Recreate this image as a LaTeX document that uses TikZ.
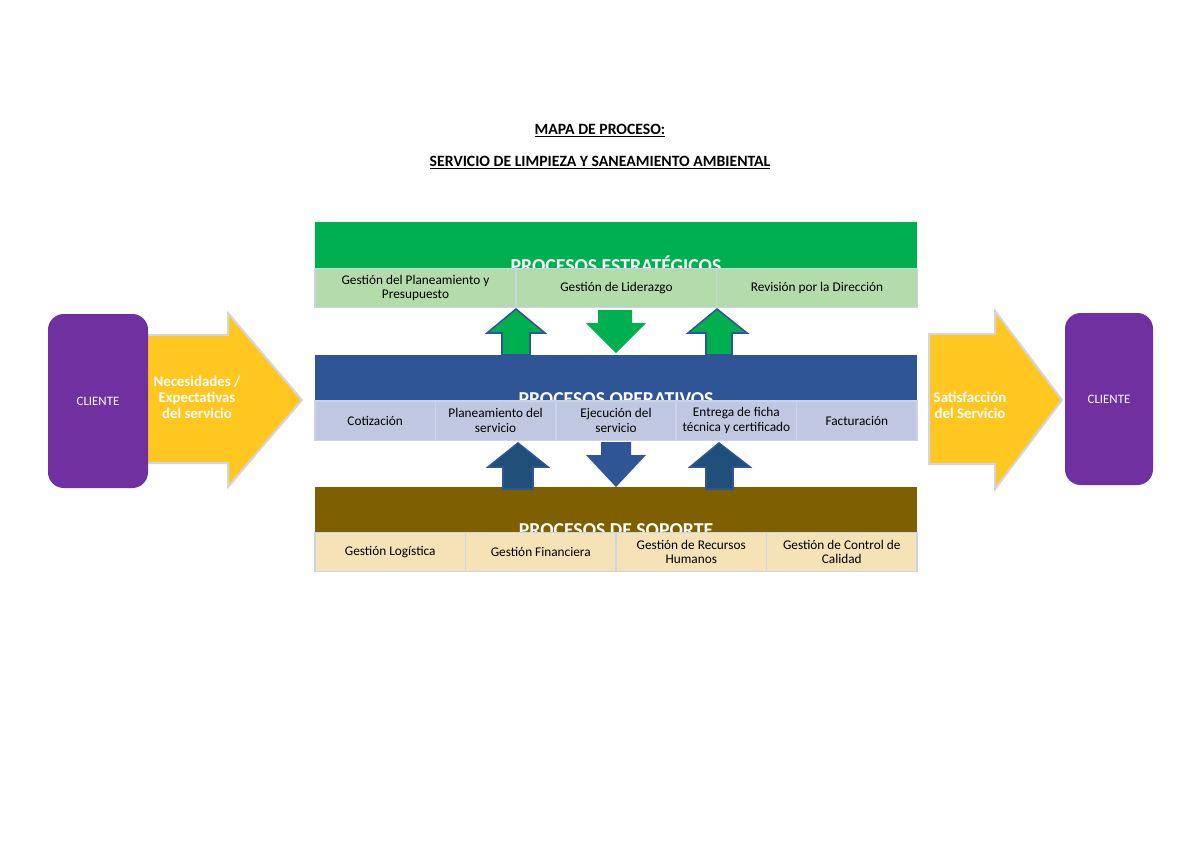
\documentclass[tikz,border=0pt]{standalone}
\usepackage{fontspec}
\setmainfont{Carlito}
\definecolor{stratgreen}{HTML}{00B050}
\definecolor{stratcell}{HTML}{B4DCAA}
\definecolor{opblue}{HTML}{2F5597}
\definecolor{opcell}{HTML}{BFC8E0}
\definecolor{darkblue}{HTML}{1F4E79}
\definecolor{brownband}{HTML}{7F6000}
\definecolor{supcell}{HTML}{F5E3B7}
\definecolor{clientpurple}{HTML}{7030A0}
\definecolor{arrowyellow}{HTML}{FFC71F}
\definecolor{cellline}{HTML}{CDD3E6}
\definecolor{yline}{HTML}{D2D6E0}
\begin{document}
\begin{tikzpicture}[x=0.7pt,y=-0.7pt,
  celltext/.style={font=\fontsize{9.3}{10.2}\selectfont, align=center, inner sep=0pt},
  cellbox/.style={draw=cellline, line width=1pt, celltext, minimum height=27.6pt},
  strcell/.style={cellbox, fill=stratcell, minimum width=140.7pt},
  opcellbox/.style={cellbox, fill=opcell, minimum width=84.28pt},
  supcellbox/.style={cellbox, fill=supcell, minimum width=105.35pt},
  bandtitle/.style={text=white, font=\fontsize{13.8}{16}\selectfont\bfseries, anchor=base, inner sep=0pt},
  client/.style={fill=clientpurple, rounded corners=11pt},
  clienttext/.style={text=white, font=\fontsize{9}{10}\selectfont, inner sep=0pt},
  yarrow/.style={fill=arrowyellow, draw=yline, line width=1.4pt, line join=miter},
  yarrowtext/.style={text=white, font=\fontsize{10.4}{11.3}\selectfont\bfseries, align=center, inner sep=0pt},
  greenup/.style={fill=stratgreen, draw=opblue, line width=1.1pt},
  greendown/.style={fill=stratgreen},
  blueup/.style={fill=darkblue, draw=opblue, line width=1.1pt},
  bluedown/.style={fill=opblue},
  titletext/.style={font=\fontsize{11}{13}\selectfont\bfseries, inner sep=0pt}
]
\useasboundingbox (0,0) rectangle (1200,849);
\fill[white] (0,0) rectangle (1200,849);

% Title
\node[titletext] (title1) at (600,131) {\underline{MAPA DE PROCESO:}};
\node[titletext] (title2) at (600,163) {\underline{SERVICIO DE LIMPIEZA Y SANEAMIENTO AMBIENTAL}};

% Strategic band
\fill[stratgreen] (315,222) rectangle (917,270);
\node[bandtitle] (tstrat) at (616,272) {PROCESOS ESTRATÉGICOS};
\node[strcell] (s1) at (415.5,288) {Gestión del Planeamiento y\\Presupuesto};
\node[strcell] (s2) at (616.5,288) {Gestión de Liderazgo};
\node[strcell] (s3) at (817,288) {Revisión por la Dirección};

% Operative band
\fill[opblue] (315,355) rectangle (917,403);
\node[bandtitle] (top) at (616,405) {PROCESOS OPERATIVOS};
\node[opcellbox] (o1) at (375.2,420.5) {Cotización};
\node[opcellbox] (o2) at (495.6,420.5) {Planeamiento del\\servicio};
\node[opcellbox] (o3) at (616,420.5) {Ejecución del\\servicio};
\node[opcellbox] (o4) at (736.4,420.5) {Entrega de ficha\\técnica y certificado};
\node[opcellbox] (o5) at (856.8,420.5) {Facturación};

% Support band
\fill[brownband] (315,487) rectangle (917,534);
\node[bandtitle] (tsup) at (616,536) {PROCESOS DE SOPORTE};
\node[supcellbox] (p1) at (390.25,552) {Gestión Logística};
\node[supcellbox] (p2) at (540.75,552) {Gestión Financiera};
\node[supcellbox] (p3) at (691.25,552) {Gestión de Recursos\\Humanos};
\node[supcellbox] (p4) at (841.75,552) {Gestión de Control de\\Calidad};

% Arrows between strategic and operative
\draw[greenup] (516,309) -- (545,333) -- (530,333) -- (530,355) -- (502,355) -- (502,333) -- (487,333) -- cycle;
\fill[greendown] (598,310) -- (632,310) -- (632,323) -- (646,323) -- (616,353) -- (586,323) -- (598,323) -- cycle;
\draw[greenup] (717,309) -- (747,333) -- (732,333) -- (732,355) -- (706,355) -- (706,333) -- (688,333) -- cycle;

% Arrows between operative and support
\draw[blueup] (518,443) -- (548,467) -- (533,467) -- (533,489) -- (503,489) -- (503,467) -- (488,467) -- cycle;
\fill[bluedown] (601,442) -- (631,442) -- (631,455) -- (646,455) -- (616,487) -- (586,455) -- (601,455) -- cycle;
\draw[blueup] (719,443) -- (750,467) -- (733,467) -- (733,489) -- (706,489) -- (706,467) -- (690,467) -- cycle;

% Left side
\draw[yarrow] (148,335) -- (228,335) -- (228,313) -- (302,400) -- (228,487) -- (228,463) -- (148,463);
\fill[client] (48,314) rectangle (148,488);
\node[clienttext] (cl1) at (98,401) {CLIENTE};
\node[yarrowtext] (nec) at (197,397) {Necesidades /\\Expectativas\\del servicio};

% Right side
\draw[yarrow] (929,464) -- (929,334) -- (995,334) -- (995,311) -- (1062,400) -- (995,489) -- (995,464) -- cycle;
\fill[client] (1065,313) rectangle (1153,485);
\node[clienttext] (cl2) at (1109,399) {CLIENTE};
\node[yarrowtext] (sat) at (970,405) {Satisfacción\\del Servicio};
\end{tikzpicture}
\end{document}
